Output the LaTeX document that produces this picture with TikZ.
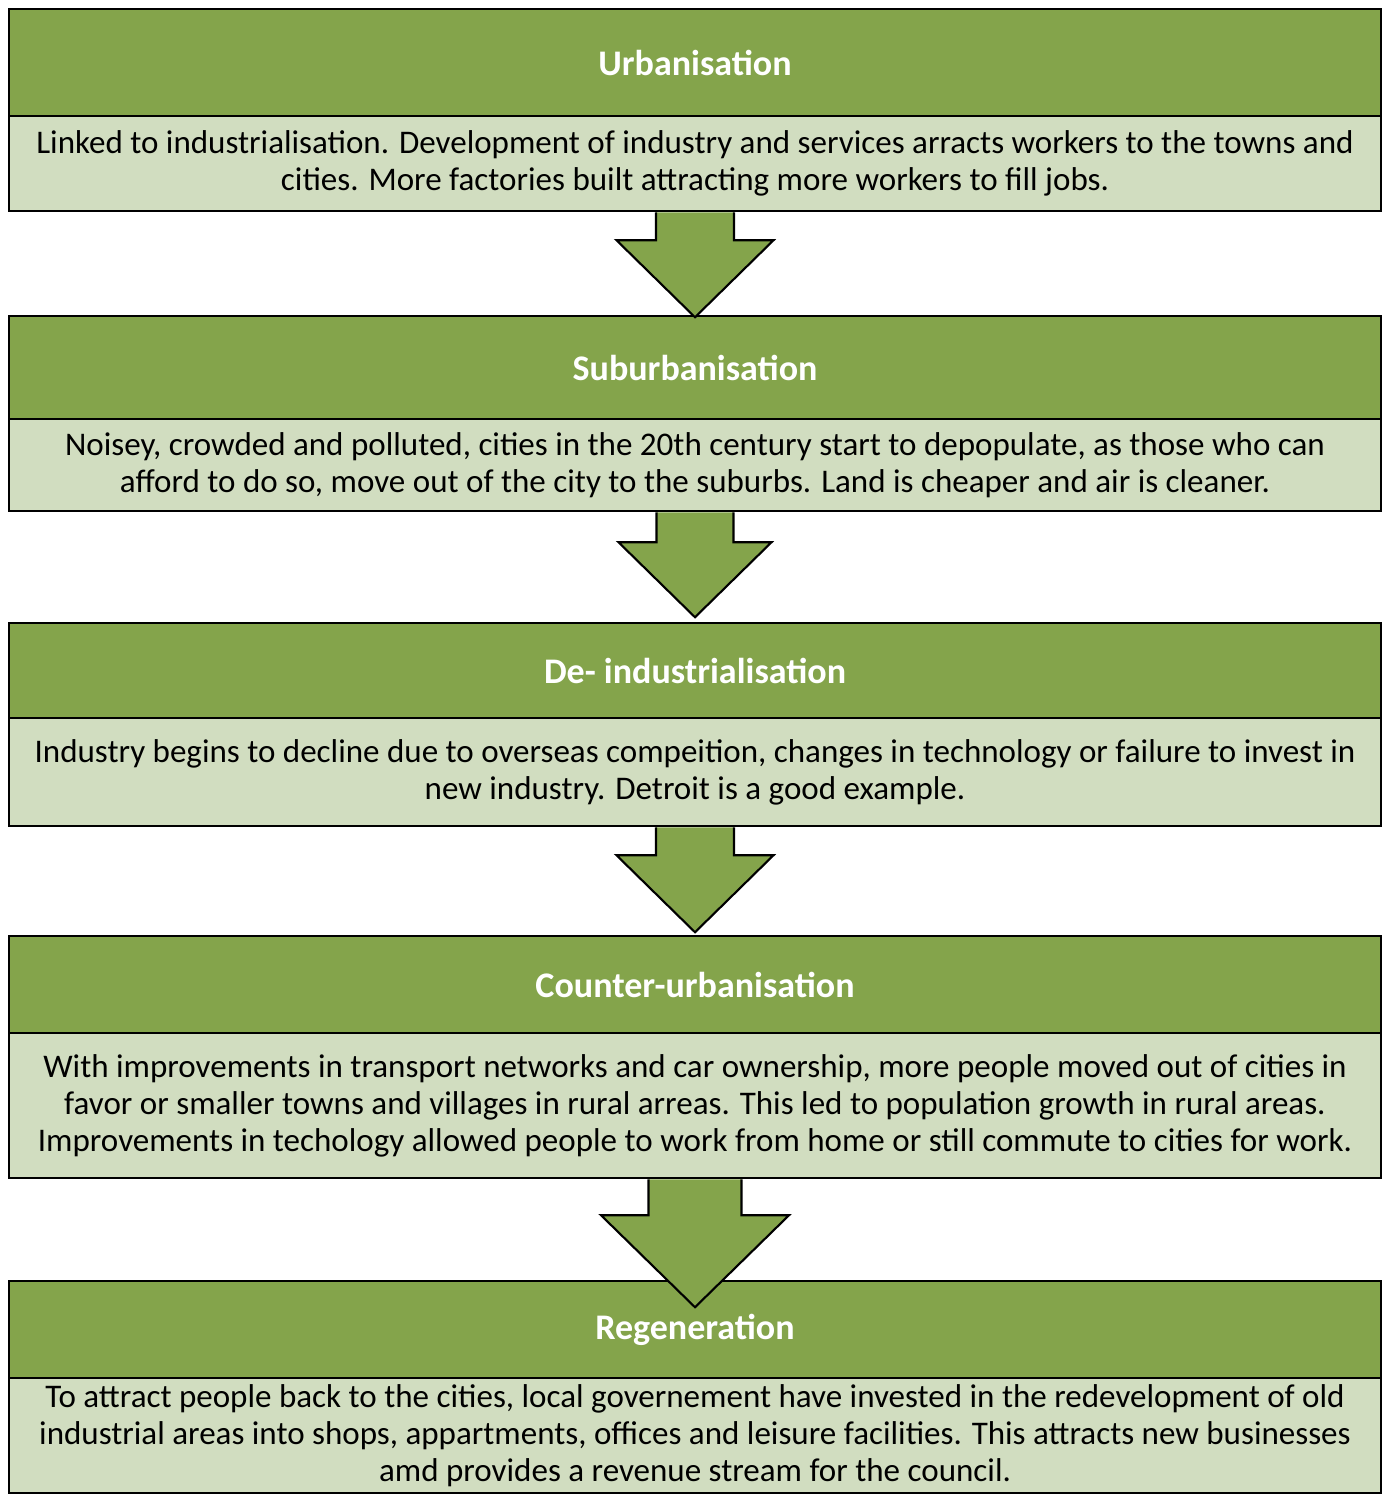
\documentclass[tikz,border=0pt]{standalone}
\usepackage{fontspec}
\setmainfont{Carlito}
\usetikzlibrary{positioning}
\definecolor{hdgreen}{HTML}{84A44B}
\definecolor{bdgreen}{HTML}{D1DDC0}
\tikzset{
  Head/.style={rectangle, draw=black, line width=1.3pt, fill=hdgreen, text=white,
    minimum width=27.44cm, anchor=north west, inner sep=0pt,
    font=\fontsize{20.5}{24}\selectfont\bfseries},
  Body/.style={rectangle, draw=black, line width=1.3pt, fill=bdgreen, text=black,
    minimum width=27.44cm, anchor=north west, inner sep=0pt, align=center,
    font=\fontsize{18.8}{21}\selectfont},
  Flow/.style={draw=black, line width=1.2pt, fill=hdgreen, line join=miter}
}
% down arrow: start node, shaft half width, head half width, shaft length, total length (px)
\newcommand{\flowarrow}[5]{%
  \draw[Flow] ([xshift=-#2]#1.south) -- ++(0,#4) -- ++(#2-#3,0) -- ([yshift=#5]#1.south)
    -- ([xshift=#3,yshift=#4]#1.south) -- ++(#2-#3,0) -- ([xshift=#2]#1.south);}
\begin{document}
\begin{tikzpicture}[x=0.02cm,y=-0.02cm]
  \useasboundingbox (0,0) rectangle (1388,1500);
  \node[Head, minimum height=2.14cm] (urbH) at (8,8) {Urbanisation};
  \node[Body, minimum height=1.9cm] (urbB) at (8,115)
    {Linked to industrialisation. Development of industry and services arracts workers to the towns and\\cities. More factories built attracting more workers to fill jobs.};
  \node[Head, minimum height=2.06cm] (subH) at (8,315) {Suburbanisation};
  \node[Body, minimum height=1.84cm] (subB) at (8,418)
    {Noisey, crowded and polluted, cities in the 20th century start to depopulate, as those who can\\afford to do so, move out of the city to the suburbs. Land is cheaper and air is cleaner.};
  \node[Head, minimum height=1.9cm] (deiH) at (8,622) {De- industrialisation};
  \node[Body, minimum height=2.16cm] (deiB) at (8,717)
    {Industry begins to decline due to overseas compeition, changes in technology or failure to invest in\\new industry. Detroit is a good example.};
  \node[Head, minimum height=1.94cm] (cntH) at (8,935) {Counter-urbanisation};
  \node[Body, minimum height=2.9cm] (cntB) at (8,1032)
    {With improvements in transport networks and car ownership, more people moved out of cities in\\favor or smaller towns and villages in rural arreas. This led to population growth in rural areas.\\Improvements in techology allowed people to work from home or still commute to cities for work.};
  \node[Head, minimum height=1.94cm] (regH) at (8,1280) {\raisebox{-0.4cm}{Regeneration}};
  \node[Body, minimum height=2.3cm] (regB) at (8,1377)
    {To attract people back to the cities, local governement have invested in the redevelopment of old\\industrial areas into shops, appartments, offices and leisure facilities. This attracts new businesses\\amd provides a revenue stream for the council.};
  % connectors
  \flowarrow{urbB}{0.78cm}{1.57cm}{-0.56cm}{-2.1cm}
  \flowarrow{subB}{0.77cm}{1.53cm}{-0.6cm}{-2.1cm}
  \flowarrow{deiB}{0.78cm}{1.57cm}{-0.56cm}{-2.1cm}
  \flowarrow{cntB}{0.93cm}{1.88cm}{-0.72cm}{-2.56cm}
\end{tikzpicture}
\end{document}
